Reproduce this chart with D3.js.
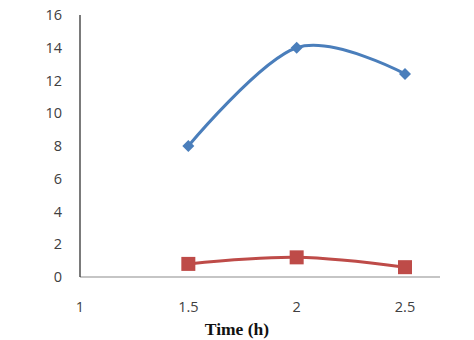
<!DOCTYPE html>
<html>
<head>
<meta charset="utf-8">
<script src="https://cdn.jsdelivr.net/npm/d3@7/dist/d3.min.js"></script>
<style>
  html, body { margin: 0; padding: 0; background: #fff; }
  svg { display: block; }
</style>
</head>
<body>
<svg id="chart" width="474" height="340"></svg>
<script>
// Time points (h) and measured series
const times = [1.5, 2, 2.5];
const seriesBlue = [8, 14, 12.4];
const seriesRed = [0.8, 1.2, 0.6];
const xTicks = [1, 1.5, 2, 2.5];
const yTicks = [0, 2, 4, 6, 8, 10, 12, 14, 16];

const svg = d3.select("#chart");

const x = d3.scaleLinear().domain([1, 2.5]).range([80, 405]);
const y = d3.scaleLinear().domain([0, 16]).range([277, 15]);
const xEnd = 440;

// Axes lines
svg.append("line")
  .attr("x1", x(1)).attr("x2", xEnd)
  .attr("y1", y(0)).attr("y2", y(0))
  .attr("stroke", "#8c8c8c").attr("stroke-width", 1.2);
svg.append("line")
  .attr("x1", x(1)).attr("x2", x(1))
  .attr("y1", y(0)).attr("y2", y(16))
  .attr("stroke", "#222").attr("stroke-width", 1.2);

// Y tick labels
svg.append("g").selectAll("text").data(yTicks).join("text")
  .attr("x", 62).attr("y", d => y(d))
  .attr("dy", "0.35em")
  .attr("text-anchor", "end")
  .attr("font-family", "'Open Sans', 'Noto Sans', sans-serif")
  .attr("font-size", 14.5)
  .attr("fill", "#404040")
  .text(d => d);

// X tick labels
svg.append("g").selectAll("text").data(xTicks).join("text")
  .attr("x", d => x(d)).attr("y", 307)
  .attr("dy", "0.35em")
  .attr("text-anchor", "middle")
  .attr("font-family", "'Open Sans', 'Noto Sans', sans-serif")
  .attr("font-size", 14.5)
  .attr("fill", "#404040")
  .text(d => d);

// X axis title
svg.append("text")
  .attr("x", 237).attr("y", 329)
  .attr("dy", "0.35em")
  .attr("text-anchor", "middle")
  .attr("font-family", "'Liberation Serif', 'Times New Roman', serif")
  .attr("font-weight", "bold")
  .attr("font-size", 17.5)
  .attr("fill", "#111")
  .text("Time (h)");

const line = d3.line()
  .x(d => x(d[0])).y(d => y(d[1]))
  .curve(d3.curveCardinal.tension(0));

const blueData = times.map((t, i) => [t, seriesBlue[i]]);
const redData = times.map((t, i) => [t, seriesRed[i]]);

// Blue series: smoothed line with diamond markers
svg.append("path").datum(blueData)
  .attr("d", line)
  .attr("fill", "none").attr("stroke", "#4a7ebb").attr("stroke-width", 3);
svg.append("g").selectAll("path").data(blueData).join("path")
  .attr("d", d3.symbol().type(d3.symbolSquare).size(72))
  .attr("transform", d => `translate(${x(d[0])},${y(d[1])}) rotate(45)`)
  .attr("fill", "#4a7ebb");

// Red series: smoothed line with square markers
svg.append("path").datum(redData)
  .attr("d", line)
  .attr("fill", "none").attr("stroke", "#be4b48").attr("stroke-width", 3);
svg.append("g").selectAll("rect").data(redData).join("rect")
  .attr("x", d => x(d[0]) - 7).attr("y", d => y(d[1]) - 7)
  .attr("width", 14).attr("height", 14)
  .attr("fill", "#be4b48");
</script>
</body>
</html>
